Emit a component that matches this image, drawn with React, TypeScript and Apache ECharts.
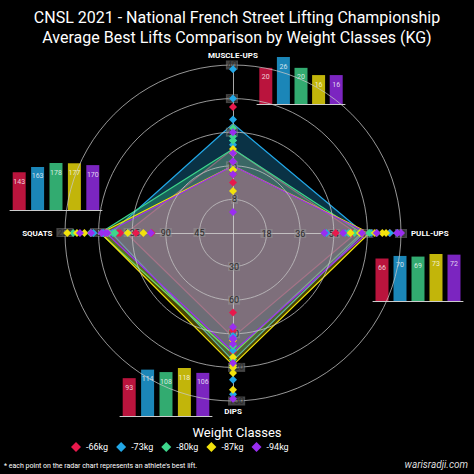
import React, { useEffect, useRef } from 'react';
import * as echarts from 'echarts';

const classes = ['-66kg', '-73kg', '-80kg', '-87kg', '-94kg'];
const colors = ['#e8194c', '#22a7e6', '#3ed68c', '#f2e20c', '#9a2ef0'];
const indicators = ['MUSCLE-UPS', 'SQUATS', 'DIPS', 'PULL-UPS'];
const indicatorMax = [40, 225, 150, 90];

const avgMuscleUps = [20, 26, 20, 16, 16];
const avgSquats = [143, 163, 178, 177, 170];
const avgDips = [93, 114, 108, 118, 106];
const avgPullUps = [66, 70, 69, 73, 72];

// each athlete's best lifts: [muscle-ups, squats, dips, pull-ups]
const athletes66 = [
  [30, 172, 106, 84], [25, 154, 105, 69], [19, 151, 96, 64], [14, 130, 87, 60], [12, 109, 71, 55],
];
const athletes73 = [
  [39, 187, 144, 88], [32, 174, 131, 84], [27, 174, 118, 74], [22, 161, 105, 62], [21, 141, 94, 60], [15, 141, 92, 50],
];
const athletes80 = [
  [25, 214, 120, 77], [23, 191, 113, 73], [22, 166, 111, 68], [15, 159, 101, 65], [15, 158, 95, 62],
];
const athletes87 = [
  [20, 222, 140, 82], [19, 209, 125, 80], [17, 199, 120, 76], [15, 168, 118, 69], [15, 141, 111, 68], [10, 120, 96, 63],
];
const athletes94 = [
  [24, 205, 148, 90], [19, 190, 116, 88], [17, 176, 99, 77], [17, 171, 95, 69], [14, 168, 94, 59], [5, 110, 84, 49],
];
const athletes = [athletes66, athletes73, athletes80, athletes87, athletes94];

const titleLine1 = 'CNSL 2021 - National French Street Lifting Championship';
const titleLine2 = 'Average Best Lifts Comparison by Weight Classes (KG)';
const footnote = "* each point on the radar chart represents an athlete's best lift.";
const credit = 'warisradji.com';

const FONT = 'Roboto, "Noto Sans", sans-serif';

export default function App() {
  const ref = useRef<HTMLDivElement>(null);
  useEffect(() => {
    if (!ref.current) return;
    const chart = echarts.init(ref.current, null, { renderer: 'svg' });

    const barSets = [
      { values: avgMuscleUps, grid: { left: 257, top: 57, width: 88, height: 47 } },
      { values: avgSquats, grid: { left: 10, top: 163, width: 92, height: 47 } },
      { values: avgDips, grid: { left: 120, top: 368, width: 92, height: 48 } },
      { values: avgPullUps, grid: { left: 373, top: 254, width: 90, height: 47 } },
    ];

    const avgSeries = classes.map((c, i) => ({
      type: 'radar',
      name: c,
      z: 2,
      symbol: 'none',
      data: [{ value: [avgMuscleUps[i], avgSquats[i], avgDips[i], avgPullUps[i]] }],
      lineStyle: { color: colors[i], width: 1.2 },
      areaStyle: { color: colors[i], opacity: 0.3 },
      itemStyle: { color: colors[i] },
    }));

    const pointSeries = classes.map((c, i) => ({
      type: 'radar',
      name: c,
      z: 4,
      symbol: 'diamond',
      symbolSize: 8,
      data: athletes[i].map((v) => ({ value: v })),
      lineStyle: { width: 0, opacity: 0 },
      itemStyle: { color: colors[i] },
    }));

    const barSeries = barSets.map((b, k) => ({
      type: 'bar',
      xAxisIndex: k,
      yAxisIndex: k,
      barWidth: 13,
      data: b.values.map((v, i) => ({ value: v, itemStyle: { color: colors[i], opacity: 0.8 } })),
      label: {
        show: true,
        position: 'insideTop',
        distance: 6,
        color: '#fff',
        fontSize: 7,
        fontFamily: FONT,
      },
    }));

    chart.setOption({
      animation: false,
      backgroundColor: '#000',
      title: [
        {
          text: titleLine1,
          left: 'center',
          top: 4,
          textStyle: { color: '#fff', fontSize: 16, fontWeight: 'normal', fontFamily: FONT },
        },
        {
          text: titleLine2,
          left: 'center',
          top: 24,
          textStyle: { color: '#fff', fontSize: 16, fontWeight: 'normal', fontFamily: FONT },
        },
        {
          text: 'Weight Classes',
          left: 'center',
          top: 421,
          textStyle: { color: '#fff', fontSize: 13, fontWeight: 'normal', fontFamily: FONT },
        },
      ],
      legend: {
        data: classes,
        top: 437,
        left: 66,
        icon: 'diamond',
        itemWidth: 10,
        itemHeight: 10,
        itemGap: 8,
        textStyle: { color: '#fff', fontSize: 9, width: 50, fontFamily: FONT },
      },
      radar: {
        z: 3,
        center: [233, 233],
        radius: 168,
        startAngle: 90,
        shape: 'circle',
        splitNumber: 5,
        nameGap: 6,
        indicator: indicators.map((n, i) => ({ name: n, min: 0, max: indicatorMax[i] })),
        axisName: { color: '#fff', fontSize: 8, fontWeight: 'bold', fontFamily: FONT },
        splitLine: { lineStyle: { color: 'rgba(200,200,200,0.75)', width: 1 } },
        splitArea: { show: false },
        axisLine: { lineStyle: { color: 'rgba(210,210,210,0.8)' } },
        axisLabel: {
          show: true,
          color: '#2a2a2a',
          fontSize: 9,
          margin: -5,
          showMinLabel: false,
          fontFamily: FONT,
          backgroundColor: 'rgba(150,150,150,0.45)',
          padding: [0, 1],
        },
      },
      grid: barSets.map((b) => ({ ...b.grid, containLabel: false })),
      xAxis: barSets.map((b, k) => ({
        type: 'category',
        gridIndex: k,
        data: classes,
        axisLine: { lineStyle: { color: '#ccc', width: 1 } },
        axisTick: { show: false },
        axisLabel: { show: false },
      })),
      yAxis: barSets.map((b, k) => ({
        type: 'value',
        gridIndex: k,
        min: 0,
        max: 'dataMax',
        show: false,
      })),
      graphic: [
        {
          type: 'text',
          left: 4,
          top: 462,
          style: { text: footnote, fill: '#fff', fontSize: 7, fontFamily: FONT },
        },
        {
          type: 'text',
          right: 6,
          top: 459,
          style: { text: credit, fill: '#ddd', fontSize: 10, fontStyle: 'italic', fontFamily: FONT },
        },
      ],
      series: [...avgSeries, ...pointSeries, ...barSeries],
    });
    return () => chart.dispose();
  }, []);
  return (
    <div
      ref={ref}
      style={{ position: 'fixed', left: 0, top: 0, width: 474, height: 474, background: '#000' }}
    />
  );
}
